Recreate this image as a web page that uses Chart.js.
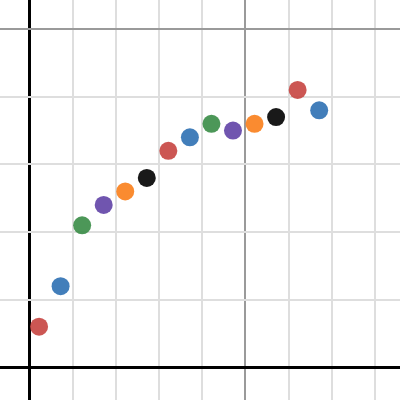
<!DOCTYPE html>
<html>
<head>
<meta charset="utf-8">
<script src="https://cdn.jsdelivr.net/npm/chart.js@4"></script>
<style>
html,body{margin:0;padding:0;background:#fff;}
#wrap{width:400px;height:400px;position:relative;}
</style>
</head>
<body>
<div id="wrap"><canvas id="c"></canvas></div>
<script>
const xValues = [0.21, 0.71, 1.21, 1.71, 2.21, 2.71, 3.21, 3.71, 4.21, 4.71, 5.21, 5.71, 6.21, 6.71];
const yValues = [0.6, 1.2, 2.1, 2.4, 2.6, 2.8, 3.2, 3.4, 3.6, 3.5, 3.6, 3.7, 4.1, 3.8];
const pointColors = [
  'rgba(199,68,64,0.9)', 'rgba(45,112,179,0.9)', 'rgba(56,140,70,0.9)',
  'rgba(96,66,166,0.9)', 'rgba(250,126,25,0.9)', 'rgba(0,0,0,0.9)'
];
const xRange = [-0.696, 8.585];
const yRange = [-0.483, 5.43];

const points = xValues.map((x, i) => ({x: x, y: yValues[i]}));
const colors = xValues.map((_, i) => pointColors[i % pointColors.length]);

function gridColor(ctx) {
  const v = ctx.tick ? ctx.tick.value : null;
  if (v === 0) return '#000000';
  if (v !== null && Math.abs(v % 5) < 1e-9) return '#9a9a9a';
  return '#dedede';
}
function gridWidth(ctx) {
  const v = ctx.tick ? ctx.tick.value : null;
  if (v === 0) return 3;
  return 2;
}
function axisOpts(range, isX) {
  return {
    type: 'linear',
    min: range[0], max: range[1],
    ticks: {display: false, stepSize: 1, includeBounds: false, autoSkip: false},
    grid: {color: gridColor, lineWidth: gridWidth, drawTicks: false},
    border: {display: false},
    afterFit: s => { if (isX) s.height = 0; else s.width = 0; }
  };
}

new Chart(document.getElementById('c'), {
  type: 'scatter',
  data: {
    datasets: [{
      data: points,
      backgroundColor: colors,
      borderWidth: 0,
      pointRadius: 9,
      pointHoverRadius: 9
    }]
  },
  options: {
    responsive: true,
    maintainAspectRatio: false,
    animation: false,
    layout: {padding: 0, autoPadding: false},
    plugins: {legend: {display: false}, tooltip: {enabled: false}},
    scales: {x: axisOpts(xRange, true), y: axisOpts(yRange, false)}
  }
});
</script>
</body>
</html>
